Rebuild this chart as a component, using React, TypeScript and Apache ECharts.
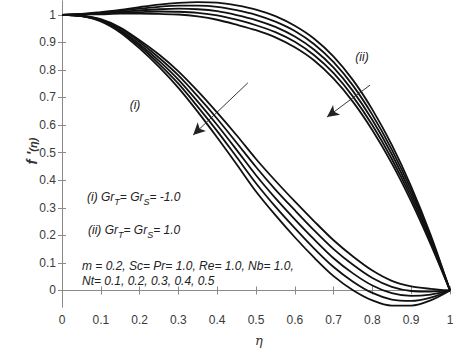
import React, { useEffect, useRef } from "react";
import * as echarts from "echarts";

const eta = [0, 0.05, 0.1, 0.15, 0.2, 0.25, 0.3, 0.35, 0.4, 0.45, 0.5, 0.55, 0.6, 0.65, 0.7, 0.75, 0.8, 0.85, 0.9, 0.95, 1];

// case (ii) Gr_T = Gr_S = 1.0
const ii_1 = [1.0, 1.003, 1.01, 1.018, 1.028, 1.037, 1.043, 1.046, 1.044, 1.034, 1.019, 0.995, 0.96, 0.913, 0.848, 0.763, 0.656, 0.528, 0.377, 0.202, 0];
const ii_2 = [1.0, 1.002, 1.008, 1.015, 1.022, 1.029, 1.033, 1.033, 1.029, 1.017, 1.0, 0.975, 0.941, 0.893, 0.828, 0.743, 0.637, 0.511, 0.364, 0.194, 0];
const ii_3 = [1.0, 1.002, 1.006, 1.011, 1.016, 1.02, 1.022, 1.02, 1.013, 0.999, 0.981, 0.956, 0.921, 0.873, 0.808, 0.723, 0.618, 0.494, 0.35, 0.185, 0];
const ii_4 = [1.0, 1.001, 1.004, 1.008, 1.01, 1.012, 1.011, 1.007, 0.998, 0.982, 0.962, 0.937, 0.902, 0.853, 0.788, 0.703, 0.599, 0.477, 0.337, 0.177, 0];
const ii_5 = [1.0, 1.001, 1.002, 1.004, 1.004, 1.003, 1.001, 0.994, 0.982, 0.964, 0.944, 0.918, 0.882, 0.834, 0.768, 0.684, 0.581, 0.461, 0.323, 0.168, 0];

// case (i) Gr_T = Gr_S = -1.0
const i_1 = [1.0, 0.997, 0.984, 0.954, 0.908, 0.856, 0.795, 0.723, 0.645, 0.563, 0.477, 0.398, 0.323, 0.251, 0.182, 0.123, 0.072, 0.035, 0.015, 0.006, 0];
const i_2 = [1.0, 0.996, 0.982, 0.95, 0.901, 0.844, 0.78, 0.704, 0.623, 0.536, 0.448, 0.366, 0.291, 0.218, 0.15, 0.093, 0.045, 0.013, -0.002, -0.004, 0];
const i_3 = [1.0, 0.996, 0.98, 0.945, 0.893, 0.833, 0.765, 0.685, 0.6, 0.51, 0.418, 0.335, 0.258, 0.185, 0.117, 0.062, 0.018, -0.01, -0.02, -0.015, 0];
const i_4 = [1.0, 0.995, 0.978, 0.94, 0.886, 0.822, 0.75, 0.666, 0.578, 0.484, 0.389, 0.304, 0.226, 0.152, 0.085, 0.032, -0.009, -0.033, -0.038, -0.026, 0];
const i_5 = [1.0, 0.995, 0.976, 0.936, 0.878, 0.811, 0.735, 0.648, 0.555, 0.458, 0.359, 0.273, 0.193, 0.119, 0.052, 0.001, -0.036, -0.055, -0.055, -0.036, 0];

const yTicks = [0, 0.1, 0.2, 0.3, 0.4, 0.5, 0.6, 0.7, 0.8, 0.9, 1];

// arrow annotations in data coordinates: [start, tip]
const arrowI = [[0.479, 0.753], [0.338, 0.564]];
const arrowII = [[0.794, 0.745], [0.683, 0.629]];

const curves = [ii_1, ii_2, ii_3, ii_4, ii_5, i_1, i_2, i_3, i_4, i_5];

const AX = "#8a8a8a";
const TXT = "#3a3a3a";
const FONT = "Liberation Sans, Arial, sans-serif";

export default function App() {
  const ref = useRef<HTMLDivElement>(null);
  useEffect(() => {
    const chart = echarts.init(ref.current!, null, { renderer: "svg" });
    const fmt = (v: number) => String(parseFloat(v.toFixed(1)));
    const series: any[] = curves.map((c) => ({
      type: "line",
      data: eta.map((x, j) => [x, c[j]]),
      showSymbol: false,
      smooth: 0.3,
      lineStyle: { color: "#111", width: 1.8 },
      silent: true,
      z: 3,
    }));
    series.push({
      type: "line",
      data: [],
      markLine: {
        silent: true,
        symbol: ["none", "arrow"],
        symbolSize: [9, 12],
        label: { show: false },
        lineStyle: { color: "#222", width: 0.9, type: "solid" },
        data: [
          [{ coord: arrowI[0] }, { coord: arrowI[1] }],
          [{ coord: arrowII[0] }, { coord: arrowII[1] }],
        ],
      },
    });
    const t = { fontSize: 12, fontStyle: "italic", fontFamily: FONT, fill: "#222" };
    const sub = { fontSize: 9, fontStyle: "italic", fontFamily: FONT, fill: "#222", padding: [9, 0, 0, 0] };
    chart.setOption({
      animation: false,
      grid: { left: 62, right: 24, top: 1, bottom: 46 },
      xAxis: [
        {
          type: "value", min: 0, max: 1, interval: 0.1,
          axisLine: { lineStyle: { color: AX, width: 1 } },
          axisTick: { inside: true, length: 4, lineStyle: { color: AX } },
          axisLabel: { color: TXT, fontSize: 12, fontFamily: FONT, margin: 7, formatter: fmt },
          splitLine: { show: false },
        },
        {
          type: "value", min: 0, max: 1, interval: 0.1, position: "top",
          axisLine: { show: true, lineStyle: { color: AX, width: 1 } },
          axisTick: { show: true, inside: true, length: 4, lineStyle: { color: AX } },
          axisLabel: { show: false },
          splitLine: { show: false },
        },
      ],
      yAxis: [
        {
          type: "value", min: -0.06, max: 1.05,
          axisLine: { show: true, lineStyle: { color: AX, width: 1 } },
          axisTick: { show: true, inside: true, length: 4, lineStyle: { color: AX }, customValues: yTicks },
          axisLabel: { color: TXT, fontSize: 12, fontFamily: FONT, margin: 6, formatter: fmt, customValues: yTicks },
          splitLine: { show: false },
        },
        {
          type: "value", min: -0.06, max: 1.05, position: "right",
          axisLine: { show: true, lineStyle: { color: AX, width: 1 } },
          axisTick: { show: true, inside: true, length: 4, lineStyle: { color: AX }, customValues: yTicks },
          axisLabel: { show: false, customValues: yTicks },
          splitLine: { show: false },
        },
      ],
      series,
      graphic: [
        {
          type: "text", x: 259, y: 340,
          style: { text: "η", font: "italic 13px DejaVu Serif, serif", fill: "#333", align: "center", verticalAlign: "middle" },
        },
        {
          type: "text", x: 31, y: 151, rotation: Math.PI / 2,
          style: {
            text: "{a|f '}{b|(η)}",
            align: "center", verticalAlign: "middle",
            rich: {
              a: { fontSize: 15, fontWeight: "bold", fontStyle: "italic", fontFamily: FONT, fill: "#333" },
              b: { fontSize: 11, fontWeight: "bold", fontStyle: "italic", fontFamily: FONT, fill: "#333", padding: [3, 0, 0, 0] },
            },
          },
        },
        { type: "text", x: 135, y: 105, style: { text: "(i)", font: "italic 12px " + FONT, fill: "#222", align: "center", verticalAlign: "middle" } },
        { type: "text", x: 362, y: 57, style: { text: "(ii)", font: "italic 12px " + FONT, fill: "#222", align: "center", verticalAlign: "middle" } },
        {
          type: "text", x: 87, y: 188,
          style: { text: "{t|(i) Gr}{s|T}{t|= Gr}{s|S}{t|= -1.0}", rich: { t, s: sub } },
        },
        {
          type: "text", x: 88, y: 221,
          style: { text: "{t|(ii) Gr}{s|T}{t|= Gr}{s|S}{t|= 1.0}", rich: { t, s: sub } },
        },
        {
          type: "text", x: 82, y: 260,
          style: { text: "m = 0.2, Sc= Pr= 1.0, Re= 1.0, Nb= 1.0,", font: "italic 12px " + FONT, fill: "#222" },
        },
        {
          type: "text", x: 82, y: 275,
          style: { text: "Nt= 0.1, 0.2, 0.3, 0.4, 0.5", font: "italic 12px " + FONT, fill: "#222" },
        },
      ],
    });
    return () => chart.dispose();
  }, []);
  return <div ref={ref} style={{ position: "absolute", left: 0, top: 0, width: 474, height: 353, background: "#fff" }} />;
}
